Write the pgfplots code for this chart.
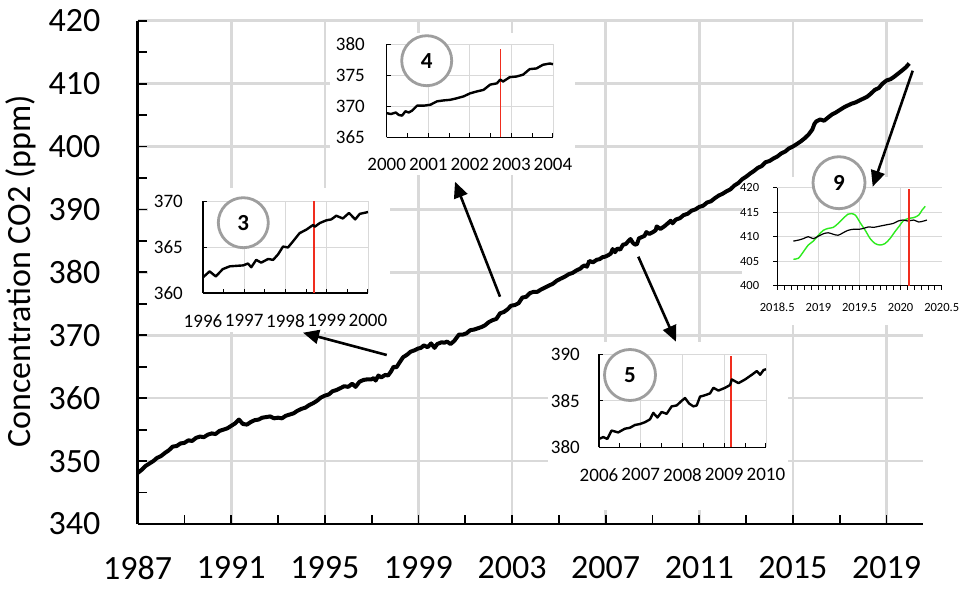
\documentclass[border=0pt]{standalone}
\usepackage{fontspec}
\setmainfont{Carlito}
\usepackage{pgfplots}
\pgfplotsset{compat=1.18}
\usetikzlibrary{arrows.meta}

\definecolor{gridgray}{RGB}{217,217,217}
\definecolor{ringgray}{RGB}{158,158,158}
\definecolor{limegreen}{RGB}{45,235,30}
\definecolor{markred}{RGB}{240,45,30}

\pgfplotsset{
  every axis/.append style={
    /pgf/number format/.cd, 1000 sep={}, assume math mode=true, /pgfplots/.cd,
    scale only axis, axis x line*=bottom, axis y line*=left,
    anchor=south west,
  },
  inset/.style={
    axis line style={black, line width=1.3pt},
    tick align=inside, major tick length=4pt, minor tick length=4pt,
    every tick/.style={black, line width=1pt},
    grid=major, major grid style={gridgray, line width=0.9pt},
    tick label style={font=\fontsize{19}{22}\selectfont},
    xticklabel style={anchor=north, inner sep=0pt, yshift=-21pt},
  },
}

\newcommand{\ringlabel}[3]{%
  \draw[ringgray, line width=2.8pt, fill=white] (#1) circle[radius=#2];
  \node[font=\fontsize{23}{26}\selectfont\bfseries] at (#1) {#3};}

\begin{document}
\begin{tikzpicture}[x=1pt,y=1pt]
\path[use as bounding box] (0,0) rectangle (960,590);

% ---------------- main record ----------------
\begin{axis}[
  at={(137.6pt,66pt)}, width=785.4pt, height=503.3pt,
  xmin=1987, xmax=2020.56, ymin=340, ymax=420, clip=false,
  xtick={1987,1991,...,2019}, minor xtick={1989,1993,...,2017},
  ytick={340,350,...,420}, minor ytick={345,355,...,415},
  tick align=inside, major tick length=9pt, minor tick length=9pt,
  every tick/.style={black, line width=1.8pt},
  axis line style={black, line width=2.6pt},
  grid=major, major grid style={gridgray, line width=2.6pt},
  tick label style={font=\fontsize{34}{40}\selectfont},
  yticklabel style={anchor=east, inner sep=0pt, xshift=-37pt},
  xticklabel style={anchor=north, inner sep=0pt, yshift=-32pt},
]
% white panels behind the zoomed views
\fill[white] (1987.44,370.5) rectangle (1997.79,393.4);
\fill[white] (1995.22,395.5) rectangle (2005.69,418.0);
\fill[white] (2004.54,342.2) rectangle (2014.80,368.9);
\fill[white] (2012.83,371.6) rectangle (2022.15,395.2);
\addplot[black, line width=4pt, line join=round] coordinates {
(1987.00,348.1) (1987.17,348.6) (1987.33,349.2) (1987.50,349.6) (1987.67,350.0) (1987.83,350.5)
(1988.00,350.8) (1988.17,351.3) (1988.33,351.7) (1988.50,352.3) (1988.67,352.4) (1988.83,352.8)
(1989.00,352.9) (1989.17,353.3) (1989.33,353.2) (1989.50,353.7) (1989.67,353.9) (1989.83,353.8)
(1990.00,354.2) (1990.17,354.4) (1990.33,354.3) (1990.50,354.8) (1990.67,355.0) (1990.83,355.2)
(1991.00,355.6) (1991.17,356.0) (1991.33,356.6) (1991.50,355.9) (1991.67,355.8) (1991.83,356.2)
(1992.00,356.5) (1992.17,356.6) (1992.33,356.9) (1992.50,357.0) (1992.67,357.1) (1992.83,356.8)
(1993.00,356.9) (1993.17,356.8) (1993.33,357.2) (1993.50,357.4) (1993.67,357.6) (1993.83,358.0)
(1994.00,358.3) (1994.17,358.5) (1994.33,358.9) (1994.50,359.2) (1994.67,359.6) (1994.83,360.1)
(1995.00,360.4) (1995.17,360.6) (1995.33,361.1) (1995.50,361.3) (1995.67,361.6) (1995.83,361.9)
(1996.00,361.8) (1996.17,362.3) (1996.31,361.8) (1996.48,362.6) (1996.65,362.9) (1996.83,363.0)
(1997.00,363.0) (1997.09,363.2) (1997.17,362.8) (1997.29,363.6) (1997.41,363.3) (1997.58,363.7)
(1997.70,363.6) (1997.82,364.2) (1997.94,365.0) (1998.06,364.9) (1998.18,365.6) (1998.34,366.5)
(1998.51,366.9) (1998.67,367.4) (1998.83,367.6) (1998.99,367.9) (1999.11,368.0) (1999.23,368.4)
(1999.39,368.1) (1999.54,368.7) (1999.69,368.0) (1999.80,368.6) (2000.00,368.9) (2000.10,368.8)
(2000.22,369.0) (2000.37,368.6) (2000.53,369.1) (2000.73,370.1) (2000.89,370.1) (2001.05,370.3)
(2001.21,370.8) (2001.37,370.9) (2001.53,371.1) (2001.69,371.3) (2001.85,371.6) (2002.01,372.1)
(2002.17,372.4) (2002.33,372.6) (2002.49,373.5) (2002.65,373.7) (2002.80,374.1) (2002.96,374.7)
(2003.12,374.8) (2003.28,375.1) (2003.44,376.0) (2003.60,376.1) (2003.76,376.7) (2003.92,376.9)
(2004.08,376.9) (2004.25,377.3) (2004.42,377.6) (2004.58,377.9) (2004.75,378.2) (2004.92,378.7)
(2005.08,379.0) (2005.25,379.3) (2005.42,379.7) (2005.58,379.9) (2005.75,380.3) (2005.92,380.6)
(2006.00,380.9) (2006.10,381.1) (2006.20,380.9) (2006.30,381.8) (2006.46,381.6) (2006.62,382.0)
(2006.74,382.1) (2006.86,382.4) (2006.98,382.5) (2007.10,382.7) (2007.22,383.0) (2007.30,383.7)
(2007.40,383.2) (2007.50,383.8) (2007.62,383.6) (2007.74,384.4) (2007.86,384.5) (2007.98,385.0)
(2008.06,385.3) (2008.16,384.7) (2008.26,384.4) (2008.34,384.5) (2008.42,385.4) (2008.54,385.6)
(2008.66,385.8) (2008.74,386.4) (2008.86,386.1) (2009.02,386.4) (2009.14,386.7) (2009.18,387.3)
(2009.34,386.9) (2009.50,387.3) (2009.66,387.8) (2009.78,388.2) (2009.86,387.8) (2010.00,388.4)
(2010.17,388.6) (2010.33,389.1) (2010.50,389.3) (2010.67,389.8) (2010.83,390.0) (2011.00,390.4)
(2011.17,390.6) (2011.33,391.1) (2011.50,391.3) (2011.67,391.8) (2011.83,392.2) (2012.00,392.5)
(2012.17,392.9) (2012.33,393.2) (2012.50,393.8) (2012.67,394.2) (2012.83,394.8) (2013.00,395.2)
(2013.17,395.7) (2013.33,396.1) (2013.50,396.6) (2013.67,396.9) (2013.83,397.5) (2014.00,397.7)
(2014.17,398.1) (2014.33,398.4) (2014.50,398.9) (2014.67,399.2) (2014.83,399.7) (2015.00,400.0)
(2015.17,400.4) (2015.33,400.8) (2015.50,401.3) (2015.67,401.9) (2015.83,402.7) (2015.92,403.6)
(2016.00,404.0) (2016.17,404.3) (2016.33,404.1) (2016.50,404.6) (2016.67,405.1) (2016.83,405.4)
(2017.00,405.8) (2017.17,406.2) (2017.33,406.5) (2017.50,406.8) (2017.67,407.0) (2017.83,407.3)
(2018.00,407.6) (2018.17,407.9) (2018.33,408.4) (2018.50,409.0) (2018.67,409.3) (2018.83,410.0)
(2019.00,410.5) (2019.17,410.7) (2019.33,411.1) (2019.50,411.6) (2019.67,412.1) (2019.83,412.6)
(2019.97,413.2)
};
\end{axis}

\node[rotate=90, inner sep=0pt, font=\fontsize{34}{40}\selectfont] at (21,318.5) {Concentration CO2 (ppm)};

% ---------------- view 3: 1996-2000 ----------------
\begin{axis}[inset,
  at={(203pt,297pt)}, width=165pt, height=92pt,
  xmin=1996, xmax=2000, ymin=360, ymax=370,
  xtick={1996,...,2000}, minor xtick={1996.5,1997.5,1998.5,1999.5},
  ytick={360,365,370},
  yticklabel style={anchor=east, inner sep=0pt, xshift=-20pt},
]
\addplot[markred, line width=1.2pt] coordinates {(1998.69,360) (1998.69,370)};
\addplot[black, line width=2.4pt, line join=round] coordinates {
(1996.00,361.7) (1996.16,362.35) (1996.31,361.8) (1996.48,362.6) (1996.65,362.9) (1996.97,363.0)
(1997.09,363.2) (1997.17,362.8) (1997.29,363.6) (1997.41,363.3) (1997.58,363.7) (1997.70,363.6)
(1997.82,364.2) (1997.94,365.05) (1998.06,364.95) (1998.18,365.6) (1998.34,366.5) (1998.51,366.9)
(1998.67,367.4) (1998.71,367.2) (1998.83,367.6) (1998.99,367.9) (1999.11,368.0) (1999.23,368.4)
(1999.39,368.1) (1999.54,368.7) (1999.69,368.0) (1999.80,368.6) (2000.00,368.8)
};
\end{axis}

% ---------------- view 4: 2000-2004 ----------------
\begin{axis}[inset,
  at={(386.7pt,452.7pt)}, width=166.3pt, height=93pt,
  xmin=2000, xmax=2004, ymin=365, ymax=380,
  xtick={2000,...,2004}, minor xtick={2000.5,2001.5,2002.5,2003.5},
  ytick={365,370,375,380},
  yticklabel style={anchor=east, inner sep=0pt, xshift=-21.7pt},
]
\addplot[markred, line width=1.2pt] coordinates {(2002.73,365) (2002.73,379.3)};
\addplot[black, line width=2.4pt, line join=round] coordinates {
(2000.00,368.9) (2000.10,368.75) (2000.22,369.0) (2000.29,368.6) (2000.37,368.5) (2000.45,369.2)
(2000.53,369.0) (2000.61,369.3) (2000.73,370.1) (2000.89,370.1) (2001.05,370.25) (2001.21,370.8)
(2001.37,370.95) (2001.53,371.05) (2001.69,371.3) (2001.85,371.6) (2002.01,372.1) (2002.17,372.4)
(2002.33,372.65) (2002.49,373.5) (2002.65,373.7) (2002.73,374.3) (2002.80,374.0) (2002.96,374.7)
(2003.12,374.8) (2003.28,375.1) (2003.44,376.0) (2003.60,376.1) (2003.76,376.7) (2003.92,376.9)
(2004.00,376.8)
};
\end{axis}

% ---------------- view 5: 2006-2010 ----------------
\begin{axis}[inset,
  at={(599pt,142.7pt)}, width=167pt, height=93pt,
  xmin=2006, xmax=2010, ymin=380, ymax=390,
  xtick={2006,...,2010}, minor xtick={2006.5,2007.5,2008.5,2009.5},
  ytick={380,385,390},
  yticklabel style={anchor=east, inner sep=0pt, xshift=-19pt},
]
\addplot[markred, line width=1.2pt] coordinates {(2009.16,380) (2009.16,389.8)};
\addplot[black, line width=2.4pt, line join=round] coordinates {
(2006.00,380.9) (2006.10,381.1) (2006.20,380.9) (2006.30,381.8) (2006.46,381.6) (2006.62,382.0)
(2006.74,382.1) (2006.86,382.4) (2006.98,382.5) (2007.10,382.7) (2007.22,383.0) (2007.30,383.7)
(2007.40,383.2) (2007.50,383.8) (2007.62,383.6) (2007.74,384.4) (2007.86,384.5) (2007.98,385.0)
(2008.06,385.3) (2008.16,384.7) (2008.26,384.4) (2008.34,384.5) (2008.42,385.45) (2008.54,385.6)
(2008.66,385.8) (2008.74,386.4) (2008.86,386.1) (2009.02,386.4) (2009.14,386.7) (2009.18,387.3)
(2009.34,386.9) (2009.50,387.3) (2009.66,387.8) (2009.78,388.2) (2009.86,387.8) (2009.94,388.3)
(2010.00,388.4)
};
\end{axis}

% ---------------- view 9: 2018.5-2020.5 ----------------
\begin{axis}[
  at={(777.3pt,304.3pt)}, width=164.4pt, height=98pt,
  xmin=2018.5, xmax=2020.5, ymin=400, ymax=420,
  xtick={2019,2019.5,2020}, extra x ticks={2018.5,2020.5},
  extra x tick style={grid=none},
  minor xtick={2018.583,2018.667,2018.75,2018.833,2018.917,2019.083,2019.167,2019.25,2019.333,2019.417,
    2019.583,2019.667,2019.75,2019.833,2019.917,2020.083,2020.167,2020.25,2020.333,2020.417},
  ytick={400,405,...,420},
  axis line style={black, line width=1pt},
  tick align=outside, major tick length=4pt, minor tick length=4pt,
  every tick/.style={black, line width=0.8pt},
  grid=major, major grid style={gridgray, line width=0.9pt},
  tick label style={font=\fontsize{12.5}{15}\selectfont},
  yticklabel style={anchor=east, inner sep=0pt, xshift=-14pt},
  xticklabel style={anchor=north, inner sep=0pt, yshift=-13pt},
]
\addplot[limegreen, line width=1.4pt, smooth] coordinates {
(2018.695,405.4) (2018.756,405.6) (2018.816,406.9) (2018.877,408.3) (2018.938,409.1) (2018.999,410.3)
(2019.06,411.3) (2019.12,411.7) (2019.18,411.9) (2019.24,412.7) (2019.30,413.7) (2019.36,414.6)
(2019.40,414.7) (2019.45,414.4) (2019.51,412.8) (2019.57,411.3) (2019.63,409.6) (2019.69,408.6)
(2019.75,408.3) (2019.81,408.6) (2019.87,409.6) (2019.93,411.0) (2019.99,412.3) (2020.03,413.2)
(2020.09,413.7) (2020.16,413.9) (2020.22,414.4) (2020.26,415.4) (2020.30,416.2)
};
\addplot[black, line width=1.2pt, smooth] coordinates {
(2018.695,409.1) (2018.756,409.3) (2018.816,409.6) (2018.877,410.0) (2018.938,409.6) (2018.999,410.1)
(2019.06,410.6) (2019.12,410.8) (2019.18,410.5) (2019.24,410.3) (2019.30,410.8) (2019.36,411.3)
(2019.42,411.5) (2019.49,411.5) (2019.55,411.7) (2019.61,412.0) (2019.67,411.9) (2019.73,412.1)
(2019.79,412.3) (2019.85,412.5) (2019.91,412.7) (2019.97,413.2) (2020.03,413.4) (2020.09,413.2)
(2020.16,413.4) (2020.22,413.0) (2020.28,413.2) (2020.32,413.4)
};
\addplot[markred, line width=2pt] coordinates {(2020.106,400) (2020.106,419.8)};
\end{axis}

% ---------------- pointers and view numbers ----------------
\begin{scope}[black, line width=2.6pt, -{Triangle[length=16pt,width=14pt]}]
\draw (386.7,235) -- (303,257.3);
\draw (500,293.3) -- (455,408.3);
\draw (638.3,333.3) -- (676,248.3);
\draw (912.7,519.3) -- (872.7,403.3);
\end{scope}

\ringlabel{243.3,367.3}{25}{3}
\ringlabel{426.7,529.3}{25}{4}
\ringlabel{630,215}{25.5}{5}
\ringlabel{839,407.3}{26}{9}
\end{tikzpicture}
\end{document}
